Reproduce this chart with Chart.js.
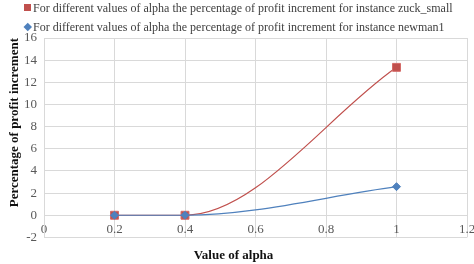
<!DOCTYPE html>
<html>
<head>
<meta charset="utf-8">
<script src="https://cdn.jsdelivr.net/npm/chart.js@4"></script>
<style>
  html, body { margin: 0; padding: 0; background: #fff; }
  #wrap { position: relative; width: 474px; height: 264px; overflow: hidden; }
  .legend-item {
    position: absolute; left: 24px; height: 14px; white-space: nowrap;
    font-family: 'Liberation Serif', 'Times New Roman', serif; font-size: 12px;
    line-height: 14px; color: #404040;
  }
  .legend-item .mark { position: absolute; left: 0; top: 3px; width: 7px; height: 7px; }
  .legend-item .txt { position: absolute; left: 9px; top: 0; }
  .diamond .mark { left: 1px; width: 5.5px; height: 5.5px; top: 4px; transform: rotate(45deg); }
</style>
</head>
<body>
<div id="wrap">
  <canvas id="chart"></canvas>
  <div id="legend"></div>
</div>
<script>
// --- DATA ---
const alphaValues = [0.2, 0.4, 1];
const zuckSmall = [0, 0, 13.35];
const newman1 = [0, 0, 2.58];
const seriesNames = [
    "For different values of alpha the percentage of profit increment for instance zuck_small",
    "For different values of alpha the percentage of profit increment for instance newman1"
];
const seriesColors = ["#C0504D", "#4F81BD"];
const xTicks = [0, 0.2, 0.4, 0.6, 0.8, 1, 1.2];
const yTicks = [-2, 0, 2, 4, 6, 8, 10, 12, 14, 16];

const serif = "'Liberation Serif', 'Times New Roman', serif";

function toPoints(xs, ys) {
    return xs.map((x, i) => ({ x: x, y: ys[i] }));
}

// html legend, one entry per line like the excel original
const legendEl = document.getElementById("legend");
seriesNames.forEach((name, i) => {
    const item = document.createElement("div");
    item.className = "legend-item" + (i === 1 ? " diamond" : "");
    item.style.top = (i === 0 ? 1 : 20) + "px";
    item.innerHTML = '<span class="mark"></span><span class="txt"></span>';
    item.querySelector(".mark").style.background = seriesColors[i];
    item.querySelector(".txt").textContent = name;
    legendEl.appendChild(item);
});

const ctx = document.getElementById("chart").getContext("2d");
const chart = new Chart(ctx, {
    type: "line",
    data: {
        datasets: [
            {
                label: seriesNames[0],
                data: toPoints(alphaValues, zuckSmall),
                borderColor: seriesColors[0],
                backgroundColor: seriesColors[0],
                borderWidth: 1.2,
                pointStyle: "rect",
                pointRadius: 5.6,
                pointBorderWidth: 1,
                pointBorderColor: "#D46A67",
                cubicInterpolationMode: "monotone",
                order: 1
            },
            {
                label: seriesNames[1],
                data: toPoints(alphaValues, newman1),
                borderColor: seriesColors[1],
                backgroundColor: seriesColors[1],
                borderWidth: 1.2,
                pointStyle: "rectRot",
                pointRadius: 4,
                pointBorderWidth: 1,
                cubicInterpolationMode: "monotone",
                order: 0
            }
        ]
    },
    options: {
        responsive: true,
        maintainAspectRatio: false,
        animation: false,
        layout: { padding: { top: 38, right: 7, left: 0, bottom: 0 } },
        plugins: {
            tooltip: { enabled: false },
            legend: { display: false },
            title: {
                display: true,
                position: "bottom",
                text: "Value of alpha",
                color: "#111",
                font: { family: serif, size: 13, weight: "bold" },
                padding: { top: 10, bottom: 1 }
            }
        },
        scales: {
            x: {
                type: "linear",
                min: 0,
                max: 1.2,
                position: { y: 0 },
                afterBuildTicks: (scale) => { scale.ticks = xTicks.map(v => ({ value: v })); },
                afterFit: (scale) => { scale.paddingLeft = 0; scale.paddingRight = 0; },
                ticks: {
                    color: "#595959",
                    font: { family: serif, size: 13 },
                    padding: 7,
                    maxRotation: 0,
                    callback: (v) => String(Math.round(v * 10) / 10)
                },
                grid: { color: "#D9D9D9", drawTicks: false },
                border: { color: "#D9D9D9" }
            },
            y: {
                min: -2,
                max: 16,
                afterBuildTicks: (scale) => { scale.ticks = yTicks.map(v => ({ value: v })); },
                afterFit: (scale) => { scale.width = 44; },
                ticks: {
                    color: "#595959",
                    font: { family: serif, size: 13 },
                    padding: 7
                },
                grid: { color: "#D9D9D9", drawTicks: false },
                border: { color: "#D9D9D9" },
                title: {
                    display: true,
                    align: "end",
                    text: "Percentage of profit increment",
                    color: "#111",
                    font: { family: serif, size: 13, weight: "bold" },
                    padding: { top: 7, bottom: 4 }
                }
            }
        }
    }
});
</script>
</body>
</html>
